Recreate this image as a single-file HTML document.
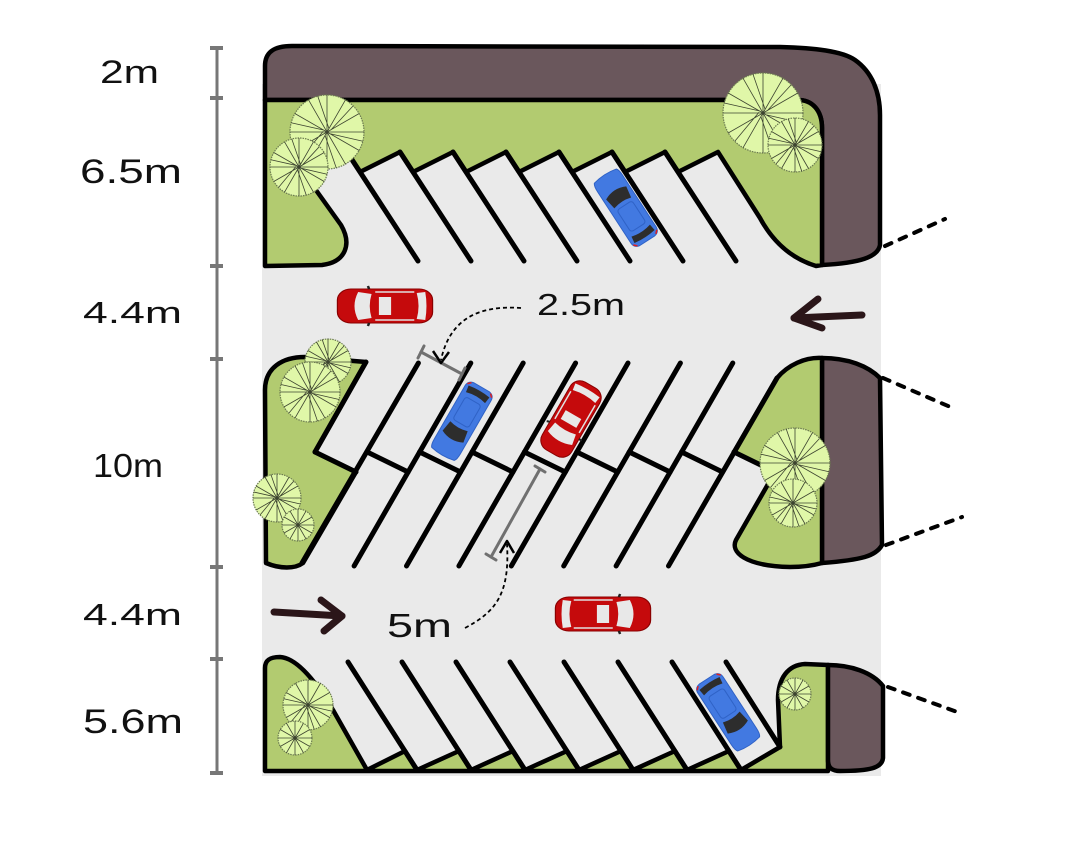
<!DOCTYPE html>
<html>
<head>
<meta charset="utf-8">
<style>
  html,body{margin:0;padding:0;background:#fff;}
  svg{display:block;}
  text{font-family:"Liberation Sans",sans-serif;fill:#111;}
</style>
</head>
<body>
<svg width="1067" height="851" viewBox="0 0 1067 851" xmlns="http://www.w3.org/2000/svg">
  <rect x="0" y="0" width="1067" height="851" fill="#fff"/>
  <!-- concrete -->
  <rect x="262" y="84" width="619" height="692" fill="#eaeaea"/>

  <g stroke="#000" stroke-width="4.5" stroke-linejoin="round" stroke-linecap="round">
    <!-- top brown L -->
    <path d="M265,100 L265,66 C265,52 274,46 292,46 L780,47 C815,48 842,51 855,60 C872,72 880,92 880,115 L880,245 C878,257 860,263 822,265 L822,128 C822,110 812,100 798,100 Z" fill="#6a575c"/>
    <!-- top green -->
    <path d="M265,100 L798,100 C812,100 822,110 822,128 L822,265 L816,266 Q780,255 760,218 L718,152 L678,172 L665,152 L625,172 L612,152 L572,172 L559,152 L519,172 L506,152 L466,172 L453,152 L413,172 L400,152 L360,172 L347,152 L303,172 L341,225 C352,244 346,262 322,265 L265,266 Z" fill="#b2cb70"/>
    <!-- middle right brown -->
    <path d="M822,358 C848,358 868,366 880,378 L882,545 C876,556 862,560 822,563 Z" fill="#6a575c"/>
    <!-- middle right green -->
    <path d="M822,358 C805,357 788,365 777,378 L734,452 L775,472 L736,540 C730,552 745,566 790,567 C805,567 815,565 822,563 Z" fill="#b2cb70"/>
    <!-- middle left green -->
    <path d="M266,563 L265,390 C265,368 282,357 305,357 L366,362 L315,452 L356,472 L303,563 C295,569 280,569 266,563 Z" fill="#b2cb70"/>
    <!-- bottom green -->
    <path d="M265,771 L265,668 C265,660 270,657 280,657 C298,658 318,685 333,710 L367,770 L405,751 L417,770 L459,751 L471,770 L513,751 L525,770 L567,751 L579,770 L621,751 L633,770 L675,751 L687,770 L729,751 L741,770 L780,747 L778,700 C778,678 788,665 805,664 L828,665 L828,771 Z" fill="#b2cb70"/>
    <!-- bottom brown -->
    <path d="M828,665 C850,665 872,672 883,686 L883,758 C882,768 870,771 840,771 C832,771 828,768 828,760 Z" fill="#6a575c"/>
  </g>

  <!-- stall lines -->
  <g stroke="#000" stroke-width="5" stroke-linecap="round" fill="none">
    <!-- top row -->
    <path d="M347,152 L418,261 M400,152 L471,261 M453,152 L524,261 M506,152 L577,261 M559,152 L630,261 M612,152 L683,261 M665,152 L736,261"/>
    <!-- middle rows -->
    <path d="M366,362 L315,452 M418.4,363 L302,563 M470.8,363 L354.1,566 M523.2,363 L406.5,566 M575.6,363 L458.9,566 M628,363 L511.3,566 M680.4,363 L563.7,566 M732.8,363 L616.1,566 M777,378 L668.5,566"/>
    <path d="M315,452 L356,472 M367.2,452 L408.1,472 M419.6,452 L460.5,472 M472,452 L512.9,472 M524.4,452 L565.3,472 M576.8,452 L617.7,472 M629.2,452 L670.1,472 M681.6,452 L722.5,472 M734,452 L775,472"/>
    <!-- bottom row -->
    <path d="M348,662 L417,770 M402,662 L471,770 M456,662 L525,770 M510,662 L579,770 M564,662 L633,770 M618,662 L687,770 M672,662 L741,770 M726,662 L780,747"/>
  </g>

  <!-- trees -->
  <g id="trees">
    <g transform="translate(327,132) scale(37)">
      <circle r="1" fill="#e0f7a8" stroke="#6b7a50" stroke-width="1.2" stroke-dasharray="1.5 1" vector-effect="non-scaling-stroke"/>
      <path d="M0,0L1,0M0,0L.87,.5M0,0L.5,.87M0,0L0,1M0,0L-.5,.87M0,0L-.87,.5M0,0L-1,0M0,0L-.87,-.5M0,0L-.5,-.87M0,0L0,-1M0,0L.5,-.87M0,0L.87,-.5M.1,.05L.97,.25M-.05,.1L.25,.97M-.1,-.02L-.7,.7M-.08,-.05L-.97,-.25M.05,-.1L-.25,-.97M.1,-.05L.7,-.7" stroke="#3d4430" stroke-width="0.8" fill="none" vector-effect="non-scaling-stroke"/>
    </g>
    <g transform="translate(299,167) scale(29)">
      <circle r="1" fill="#e0f7a8" stroke="#6b7a50" stroke-width="1.2" stroke-dasharray="1.5 1" vector-effect="non-scaling-stroke"/>
      <path d="M0,0L1,0M0,0L.87,.5M0,0L.5,.87M0,0L0,1M0,0L-.5,.87M0,0L-.87,.5M0,0L-1,0M0,0L-.87,-.5M0,0L-.5,-.87M0,0L0,-1M0,0L.5,-.87M0,0L.87,-.5M.1,.05L.97,.25M-.05,.1L.25,.97M-.1,-.02L-.7,.7M-.08,-.05L-.97,-.25M.05,-.1L-.25,-.97M.1,-.05L.7,-.7" stroke="#3d4430" stroke-width="0.8" fill="none" vector-effect="non-scaling-stroke"/>
    </g>
    <g transform="translate(763,113) scale(40)">
      <circle r="1" fill="#e0f7a8" stroke="#6b7a50" stroke-width="1.2" stroke-dasharray="1.5 1" vector-effect="non-scaling-stroke"/>
      <path d="M0,0L1,0M0,0L.87,.5M0,0L.5,.87M0,0L0,1M0,0L-.5,.87M0,0L-.87,.5M0,0L-1,0M0,0L-.87,-.5M0,0L-.5,-.87M0,0L0,-1M0,0L.5,-.87M0,0L.87,-.5M.1,.05L.97,.25M-.05,.1L.25,.97M-.1,-.02L-.7,.7M-.08,-.05L-.97,-.25M.05,-.1L-.25,-.97M.1,-.05L.7,-.7" stroke="#3d4430" stroke-width="0.8" fill="none" vector-effect="non-scaling-stroke"/>
    </g>
    <g transform="translate(795,145) scale(27)">
      <circle r="1" fill="#e0f7a8" stroke="#6b7a50" stroke-width="1.2" stroke-dasharray="1.5 1" vector-effect="non-scaling-stroke"/>
      <path d="M0,0L1,0M0,0L.87,.5M0,0L.5,.87M0,0L0,1M0,0L-.5,.87M0,0L-.87,.5M0,0L-1,0M0,0L-.87,-.5M0,0L-.5,-.87M0,0L0,-1M0,0L.5,-.87M0,0L.87,-.5M.1,.05L.97,.25M-.05,.1L.25,.97M-.1,-.02L-.7,.7M-.08,-.05L-.97,-.25M.05,-.1L-.25,-.97M.1,-.05L.7,-.7" stroke="#3d4430" stroke-width="0.8" fill="none" vector-effect="non-scaling-stroke"/>
    </g>
    <g transform="translate(328,362) scale(23)">
      <circle r="1" fill="#e0f7a8" stroke="#6b7a50" stroke-width="1.2" stroke-dasharray="1.5 1" vector-effect="non-scaling-stroke"/>
      <path d="M0,0L1,0M0,0L.87,.5M0,0L.5,.87M0,0L0,1M0,0L-.5,.87M0,0L-.87,.5M0,0L-1,0M0,0L-.87,-.5M0,0L-.5,-.87M0,0L0,-1M0,0L.5,-.87M0,0L.87,-.5M.1,.05L.97,.25M-.05,.1L.25,.97M-.1,-.02L-.7,.7M-.08,-.05L-.97,-.25M.05,-.1L-.25,-.97M.1,-.05L.7,-.7" stroke="#3d4430" stroke-width="0.8" fill="none" vector-effect="non-scaling-stroke"/>
    </g>
    <g transform="translate(310,392) scale(30)">
      <circle r="1" fill="#e0f7a8" stroke="#6b7a50" stroke-width="1.2" stroke-dasharray="1.5 1" vector-effect="non-scaling-stroke"/>
      <path d="M0,0L1,0M0,0L.87,.5M0,0L.5,.87M0,0L0,1M0,0L-.5,.87M0,0L-.87,.5M0,0L-1,0M0,0L-.87,-.5M0,0L-.5,-.87M0,0L0,-1M0,0L.5,-.87M0,0L.87,-.5M.1,.05L.97,.25M-.05,.1L.25,.97M-.1,-.02L-.7,.7M-.08,-.05L-.97,-.25M.05,-.1L-.25,-.97M.1,-.05L.7,-.7" stroke="#3d4430" stroke-width="0.8" fill="none" vector-effect="non-scaling-stroke"/>
    </g>
    <g transform="translate(277,498) scale(24)">
      <circle r="1" fill="#e0f7a8" stroke="#6b7a50" stroke-width="1.2" stroke-dasharray="1.5 1" vector-effect="non-scaling-stroke"/>
      <path d="M0,0L1,0M0,0L.87,.5M0,0L.5,.87M0,0L0,1M0,0L-.5,.87M0,0L-.87,.5M0,0L-1,0M0,0L-.87,-.5M0,0L-.5,-.87M0,0L0,-1M0,0L.5,-.87M0,0L.87,-.5M.1,.05L.97,.25M-.05,.1L.25,.97M-.1,-.02L-.7,.7M-.08,-.05L-.97,-.25M.05,-.1L-.25,-.97M.1,-.05L.7,-.7" stroke="#3d4430" stroke-width="0.8" fill="none" vector-effect="non-scaling-stroke"/>
    </g>
    <g transform="translate(298,525) scale(16)">
      <circle r="1" fill="#e0f7a8" stroke="#6b7a50" stroke-width="1.2" stroke-dasharray="1.5 1" vector-effect="non-scaling-stroke"/>
      <path d="M0,0L1,0M0,0L.87,.5M0,0L.5,.87M0,0L0,1M0,0L-.5,.87M0,0L-.87,.5M0,0L-1,0M0,0L-.87,-.5M0,0L-.5,-.87M0,0L0,-1M0,0L.5,-.87M0,0L.87,-.5" stroke="#3d4430" stroke-width="0.8" fill="none" vector-effect="non-scaling-stroke"/>
    </g>
    <g transform="translate(795,463) scale(35)">
      <circle r="1" fill="#e0f7a8" stroke="#6b7a50" stroke-width="1.2" stroke-dasharray="1.5 1" vector-effect="non-scaling-stroke"/>
      <path d="M0,0L1,0M0,0L.87,.5M0,0L.5,.87M0,0L0,1M0,0L-.5,.87M0,0L-.87,.5M0,0L-1,0M0,0L-.87,-.5M0,0L-.5,-.87M0,0L0,-1M0,0L.5,-.87M0,0L.87,-.5M.1,.05L.97,.25M-.05,.1L.25,.97M-.1,-.02L-.7,.7M-.08,-.05L-.97,-.25M.05,-.1L-.25,-.97M.1,-.05L.7,-.7" stroke="#3d4430" stroke-width="0.8" fill="none" vector-effect="non-scaling-stroke"/>
    </g>
    <g transform="translate(793,503) scale(24)">
      <circle r="1" fill="#e0f7a8" stroke="#6b7a50" stroke-width="1.2" stroke-dasharray="1.5 1" vector-effect="non-scaling-stroke"/>
      <path d="M0,0L1,0M0,0L.87,.5M0,0L.5,.87M0,0L0,1M0,0L-.5,.87M0,0L-.87,.5M0,0L-1,0M0,0L-.87,-.5M0,0L-.5,-.87M0,0L0,-1M0,0L.5,-.87M0,0L.87,-.5M.1,.05L.97,.25M-.05,.1L.25,.97M-.1,-.02L-.7,.7M-.08,-.05L-.97,-.25" stroke="#3d4430" stroke-width="0.8" fill="none" vector-effect="non-scaling-stroke"/>
    </g>
    <g transform="translate(308,705) scale(25)">
      <circle r="1" fill="#e0f7a8" stroke="#6b7a50" stroke-width="1.2" stroke-dasharray="1.5 1" vector-effect="non-scaling-stroke"/>
      <path d="M0,0L1,0M0,0L.87,.5M0,0L.5,.87M0,0L0,1M0,0L-.5,.87M0,0L-.87,.5M0,0L-1,0M0,0L-.87,-.5M0,0L-.5,-.87M0,0L0,-1M0,0L.5,-.87M0,0L.87,-.5M.1,.05L.97,.25M-.05,.1L.25,.97M-.1,-.02L-.7,.7M-.08,-.05L-.97,-.25" stroke="#3d4430" stroke-width="0.8" fill="none" vector-effect="non-scaling-stroke"/>
    </g>
    <g transform="translate(295,738) scale(17)">
      <circle r="1" fill="#e0f7a8" stroke="#6b7a50" stroke-width="1.2" stroke-dasharray="1.5 1" vector-effect="non-scaling-stroke"/>
      <path d="M0,0L1,0M0,0L.87,.5M0,0L.5,.87M0,0L0,1M0,0L-.5,.87M0,0L-.87,.5M0,0L-1,0M0,0L-.87,-.5M0,0L-.5,-.87M0,0L0,-1M0,0L.5,-.87M0,0L.87,-.5" stroke="#3d4430" stroke-width="0.8" fill="none" vector-effect="non-scaling-stroke"/>
    </g>
    <g transform="translate(795,694) scale(16)">
      <circle r="1" fill="#e0f7a8" stroke="#6b7a50" stroke-width="1.2" stroke-dasharray="1.5 1" vector-effect="non-scaling-stroke"/>
      <path d="M0,0L1,0M0,0L.87,.5M0,0L.5,.87M0,0L0,1M0,0L-.5,.87M0,0L-.87,.5M0,0L-1,0M0,0L-.87,-.5M0,0L-.5,-.87M0,0L0,-1M0,0L.5,-.87M0,0L.87,-.5" stroke="#3d4430" stroke-width="0.8" fill="none" vector-effect="non-scaling-stroke"/>
    </g>
  </g>

  <!-- cars: blue (front at -y) -->
  <g transform="translate(626,208) rotate(-33)">
    <path d="M-13,-38 Q0,-41 13,-38 Q15,-36 15,-29 L15,32 Q15,38 9,39 L-9,39 Q-15,38 -15,32 L-15,-29 Q-15,-36 -13,-38 Z" fill="#4279e1" stroke="#2f62c6" stroke-width="1"/>
    <path d="M-12,-18 Q0,-24 12,-18 L10,-6 Q0,-9 -10,-6 Z" fill="#2d2d2d"/>
    <rect x="-9" y="-3" width="18" height="26" rx="3" fill="none" stroke="#2f62c6" stroke-width="1"/>
    <path d="M-11,27 Q0,30 11,27 L12,34 Q0,36 -12,34 Z" fill="#2d2d2d"/>
    <path d="M-14,35 l3,3 M14,35 l-3,3" stroke="#e02020" stroke-width="1.5"/>
  </g>
  <g transform="translate(462,421) rotate(210)">
    <path d="M-13,-38 Q0,-41 13,-38 Q15,-36 15,-29 L15,32 Q15,38 9,39 L-9,39 Q-15,38 -15,32 L-15,-29 Q-15,-36 -13,-38 Z" fill="#4279e1" stroke="#2f62c6" stroke-width="1"/>
    <path d="M-12,-18 Q0,-24 12,-18 L10,-6 Q0,-9 -10,-6 Z" fill="#2d2d2d"/>
    <rect x="-9" y="-3" width="18" height="26" rx="3" fill="none" stroke="#2f62c6" stroke-width="1"/>
    <path d="M-11,27 Q0,30 11,27 L12,34 Q0,36 -12,34 Z" fill="#2d2d2d"/>
    <path d="M-14,35 l3,3 M14,35 l-3,3" stroke="#e02020" stroke-width="1.5"/>
  </g>
  <g transform="translate(728,712) rotate(147)">
    <path d="M-13,-38 Q0,-41 13,-38 Q15,-36 15,-29 L15,32 Q15,38 9,39 L-9,39 Q-15,38 -15,32 L-15,-29 Q-15,-36 -13,-38 Z" fill="#4279e1" stroke="#2f62c6" stroke-width="1"/>
    <path d="M-12,-18 Q0,-24 12,-18 L10,-6 Q0,-9 -10,-6 Z" fill="#2d2d2d"/>
    <rect x="-9" y="-3" width="18" height="26" rx="3" fill="none" stroke="#2f62c6" stroke-width="1"/>
    <path d="M-11,27 Q0,30 11,27 L12,34 Q0,36 -12,34 Z" fill="#2d2d2d"/>
    <path d="M-14,35 l3,3 M14,35 l-3,3" stroke="#e02020" stroke-width="1.5"/>
  </g>

  <!-- red cars (front at -y) -->
  <g transform="translate(571,419) rotate(210)">
    <rect x="-17" y="-39" width="34" height="78" rx="11" fill="#c50a0c" stroke="#8a0000" stroke-width="1"/>
    <path d="M-14,-22 Q0,-28 14,-22 L12,-11 Q0,-14 -12,-11 Z" fill="#e8e8e8"/>
    <rect x="-9" y="-5" width="18" height="10" fill="#e8e8e8"/>
    <path d="M-13,26 Q0,29 13,26 L14,33 Q0,35 -14,33 Z" fill="#e8e8e8"/>
    <path d="M-14,-8 L-14,24 M14,-8 L14,24" stroke="#e0e0e0" stroke-width="1.5"/>
    <path d="M-17,-13 l-3,-1 M17,-13 l3,-1" stroke="#222" stroke-width="2"/>
  </g>
  <g transform="translate(385,306) rotate(-90) scale(1,1.22)">
    <rect x="-17" y="-39" width="34" height="78" rx="11" fill="#c50a0c" stroke="#8a0000" stroke-width="1"/>
    <path d="M-14,-22 Q0,-28 14,-22 L12,-11 Q0,-14 -12,-11 Z" fill="#e8e8e8"/>
    <rect x="-9" y="-5" width="18" height="10" fill="#e8e8e8"/>
    <path d="M-13,26 Q0,29 13,26 L14,33 Q0,35 -14,33 Z" fill="#e8e8e8"/>
    <path d="M-14,-8 L-14,24 M14,-8 L14,24" stroke="#e0e0e0" stroke-width="1.5"/>
    <path d="M-17,-13 l-3,-1 M17,-13 l3,-1" stroke="#222" stroke-width="2"/>
  </g>
  <g transform="translate(603,614) rotate(90) scale(1,1.22)">
    <rect x="-17" y="-39" width="34" height="78" rx="11" fill="#c50a0c" stroke="#8a0000" stroke-width="1"/>
    <path d="M-14,-22 Q0,-28 14,-22 L12,-11 Q0,-14 -12,-11 Z" fill="#e8e8e8"/>
    <rect x="-9" y="-5" width="18" height="10" fill="#e8e8e8"/>
    <path d="M-13,26 Q0,29 13,26 L14,33 Q0,35 -14,33 Z" fill="#e8e8e8"/>
    <path d="M-14,-8 L-14,24 M14,-8 L14,24" stroke="#e0e0e0" stroke-width="1.5"/>
    <path d="M-17,-13 l-3,-1 M17,-13 l3,-1" stroke="#222" stroke-width="2"/>
  </g>

  <!-- dimension markers -->
  <g stroke="#707070" stroke-width="3" stroke-linecap="round" fill="none">
    <path d="M421,352 L462,374"/>
    <path d="M418,358 L424,346 M459,380 L465,368"/>
    <path d="M540,469 L491,557"/>
    <path d="M535,466 L545,472 M486,554 L496,560"/>
  </g>

  <!-- dashed curved arrows -->
  <g stroke="#000" stroke-width="1.8" fill="none">
    <path d="M521,308 C480,305 450,318 441,360" stroke-dasharray="4 3"/>
    <path d="M433,351 L441,363 L449,352" stroke-width="2.5" stroke-linejoin="round"/>
    <path d="M465,628 C495,612 510,595 507,544" stroke-dasharray="4 3"/>
    <path d="M500,553 L507,541 L514,553" stroke-width="2.5" stroke-linejoin="round"/>
  </g>

  <!-- big direction arrows -->
  <g stroke="#2b1619" stroke-width="7" stroke-linecap="round" stroke-linejoin="round" fill="none">
    <path d="M862,315 L794,318"/>
    <path d="M818,299 L794,318 L822,328"/>
    <path d="M274,612 L342,616"/>
    <path d="M321,600 L342,616 L324,631"/>
  </g>

  <!-- right dashed lines -->
  <g stroke="#000" stroke-width="4" stroke-linecap="round" stroke-dasharray="7 9" fill="none">
    <path d="M885,246 L945,219"/>
    <path d="M883,378 L955,409"/>
    <path d="M886,545 L962,517"/>
    <path d="M888,687 L960,713"/>
  </g>

  <!-- left scale bar -->
  <g stroke="#777" stroke-width="3" fill="none">
    <path d="M217,47 L217,773"/>
  </g>
  <g stroke="#777" stroke-width="4" stroke-linecap="butt">
    <path d="M210,48 L223,48 M210,98 L223,98 M210,266 L223,266 M210,359 L223,359 M210,567 L223,567 M210,659 L223,659 M210,773 L223,773"/>
  </g>

  <!-- labels -->
  <text x="100" y="83" font-size="32" textLength="59" lengthAdjust="spacingAndGlyphs">2m</text>
  <text x="80" y="183" font-size="34" textLength="102" lengthAdjust="spacingAndGlyphs">6.5m</text>
  <text x="83" y="323" font-size="31" textLength="99" lengthAdjust="spacingAndGlyphs">4.4m</text>
  <text x="93" y="477" font-size="33" textLength="70" lengthAdjust="spacingAndGlyphs">10m</text>
  <text x="83" y="625" font-size="31" textLength="99" lengthAdjust="spacingAndGlyphs">4.4m</text>
  <text x="83" y="733" font-size="34" textLength="100" lengthAdjust="spacingAndGlyphs">5.6m</text>
  <text x="537" y="315" font-size="31" textLength="88" lengthAdjust="spacingAndGlyphs">2.5m</text>
  <text x="387" y="637" font-size="33" textLength="65" lengthAdjust="spacingAndGlyphs">5m</text>
</svg>
</body>
</html>
